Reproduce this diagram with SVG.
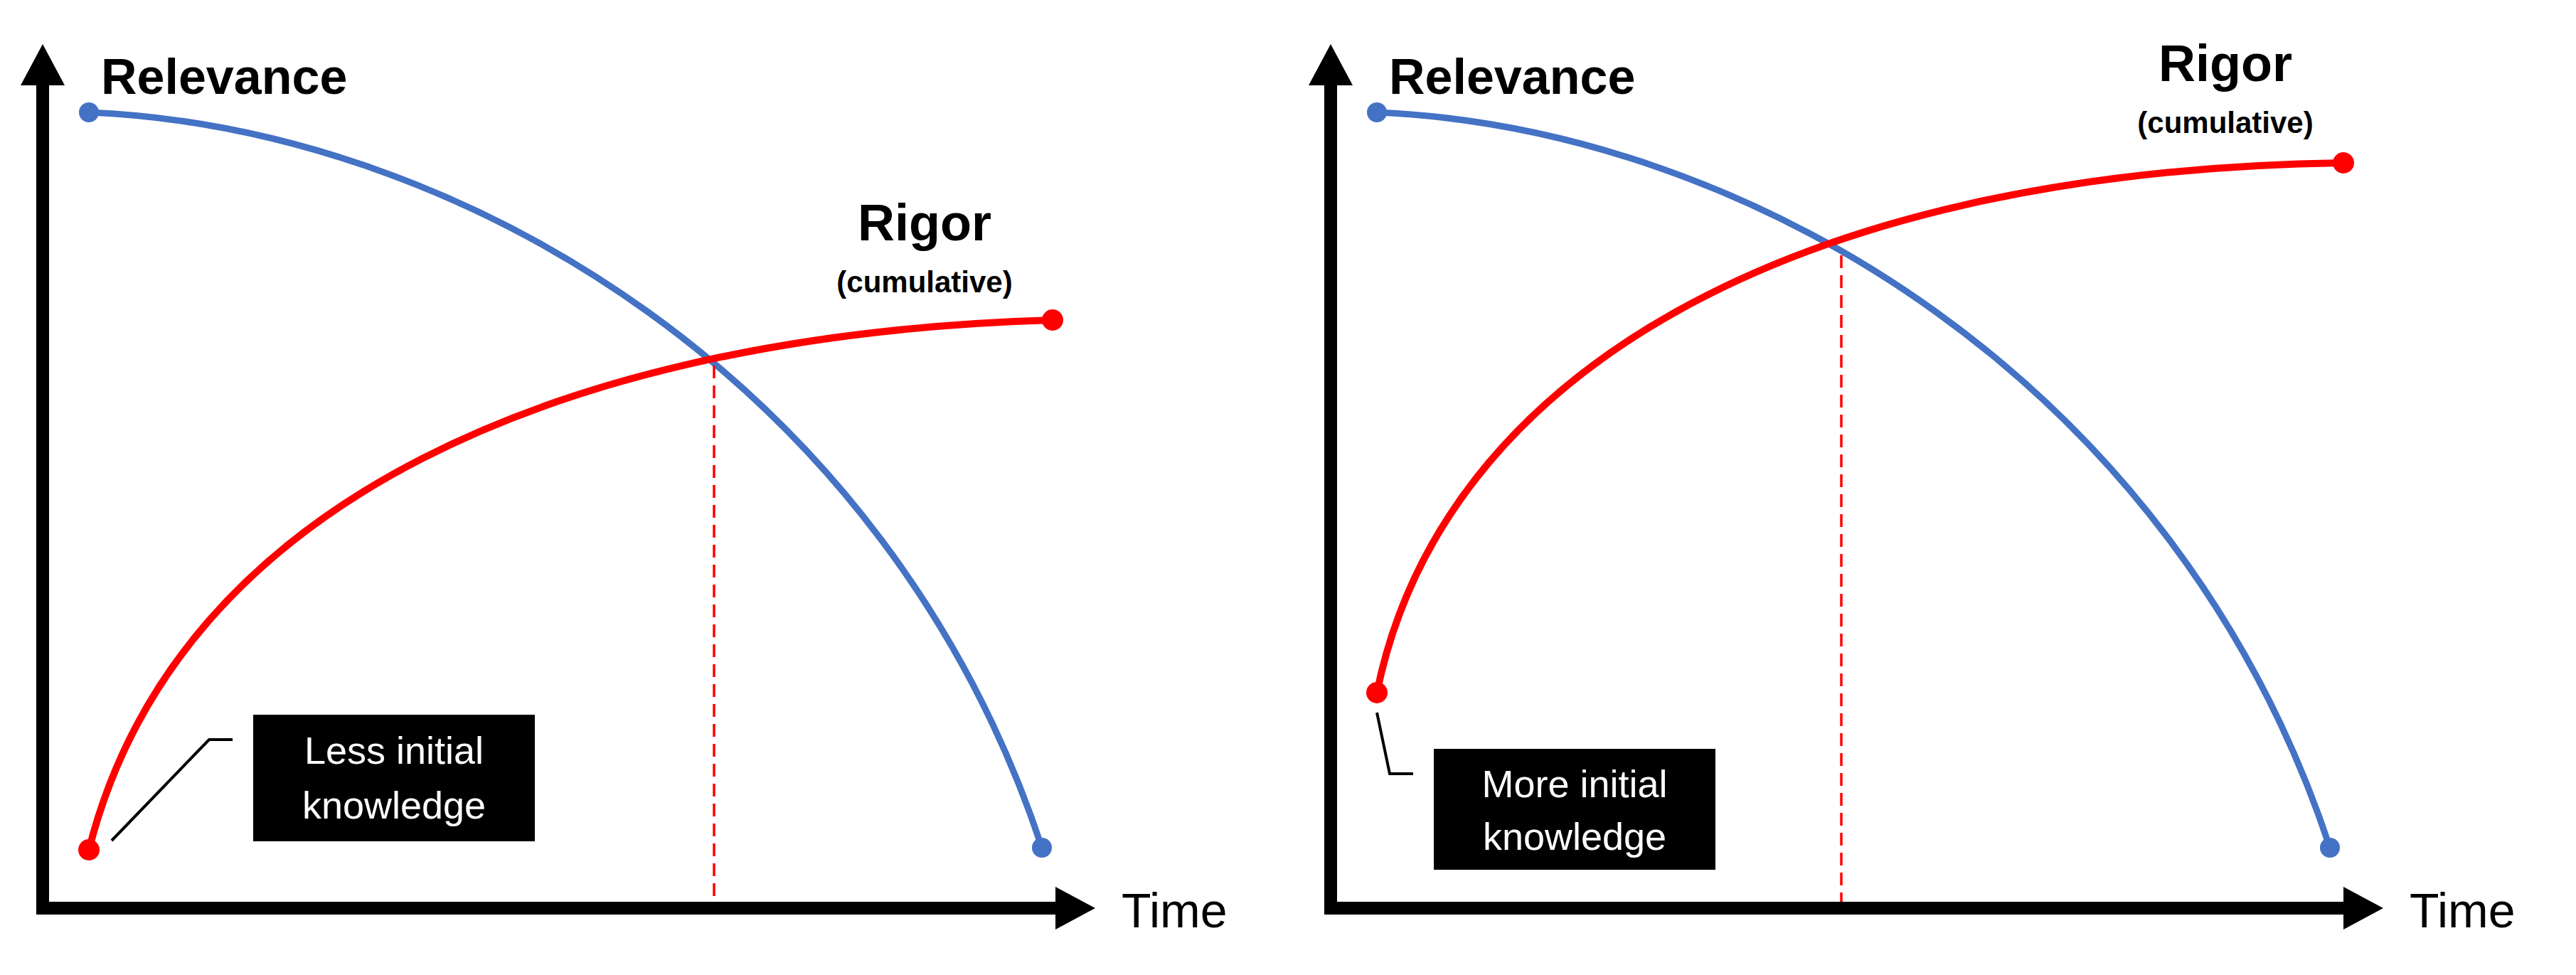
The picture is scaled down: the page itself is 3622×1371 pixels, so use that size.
<svg xmlns="http://www.w3.org/2000/svg" width="3622" height="1371" viewBox="0 0 3622 1371">
<style>
.ax{stroke:#000;stroke-width:18;fill:none}
.ah{fill:#000}
.blue{stroke:#4472C4;stroke-width:9;fill:none}
.red{stroke:#FF0000;stroke-width:10;fill:none}
.dash{stroke:#FF0000;stroke-width:3.5;stroke-dasharray:18 10;fill:none}
.bd{fill:#4472C4}.rd{fill:#FF0000}
.lead{stroke:#000;stroke-width:4;fill:none}
.t{font-family:"Liberation Sans",Arial,sans-serif;fill:#000}
.b{font-weight:bold}
.box{fill:#000}
.bt{font-family:"Liberation Sans",Arial,sans-serif;fill:#fff;font-size:54px;text-anchor:middle}
</style>
<rect width="3622" height="1371" fill="#fff"/>
<g id="left">
  <g id="axes-left">
    <line class="ax" x1="60" y1="1277" x2="60" y2="110"/>
    <polygon class="ah" points="60,62 91,120 29,120"/>
    <line class="ax" x1="51" y1="1277" x2="1495" y2="1277"/>
    <polygon class="ah" points="1540,1277 1484,1247 1484,1307"/>
    <text class="t" x="1577" y="1304" font-size="68">Time</text>
  </g>
  <g id="relevance-left">
    <path class="blue" d="M125,158 C650,180 1250,540 1465,1192"/>
    <circle class="bd" cx="125" cy="158" r="14"/>
    <circle class="bd" cx="1465" cy="1192" r="14"/>
    <text class="t b" x="142" y="132" font-size="70">Relevance</text>
  </g>
  <g id="rigor-left">
    <line class="dash" x1="1004" y1="514" x2="1004" y2="1268"/>
    <path class="red" d="M125,1195 C250,700 800,470 1480,450"/>
    <circle class="rd" cx="125" cy="1195" r="15"/>
    <circle class="rd" cx="1480" cy="450" r="15"/>
    <text class="t b" x="1300" y="338" font-size="72" text-anchor="middle">Rigor</text>
    <text class="t b" x="1300" y="411" font-size="42" text-anchor="middle">(cumulative)</text>
  </g>
  <g id="label-left">
    <polyline class="lead" points="157,1182 294,1040 327,1040"/>
    <rect class="box" x="356" y="1005" width="396" height="178"/>
    <text class="bt" x="554" y="1074">Less initial</text>
    <text class="bt" x="554" y="1151">knowledge</text>
  </g>
</g>
<g id="right" transform="translate(1811,0)">
  <g id="axes-right">
    <line class="ax" x1="60" y1="1277" x2="60" y2="110"/>
    <polygon class="ah" points="60,62 91,120 29,120"/>
    <line class="ax" x1="51" y1="1277" x2="1495" y2="1277"/>
    <polygon class="ah" points="1540,1277 1484,1247 1484,1307"/>
    <text class="t" x="1577" y="1304" font-size="68">Time</text>
  </g>
  <g id="relevance-right">
    <path class="blue" d="M125,158 C650,180 1250,540 1465,1192"/>
    <circle class="bd" cx="125" cy="158" r="14"/>
    <circle class="bd" cx="1465" cy="1192" r="14"/>
    <text class="t b" x="142" y="132" font-size="70">Relevance</text>
  </g>
  <g id="rigor-right">
    <line class="dash" x1="778" y1="359" x2="778" y2="1268"/>
    <path class="red" d="M125,974 C215,530 700,240 1484,229"/>
    <circle class="rd" cx="125" cy="974" r="15"/>
    <circle class="rd" cx="1484" cy="229" r="15"/>
    <text class="t b" x="1318" y="114" font-size="72" text-anchor="middle">Rigor</text>
    <text class="t b" x="1318" y="187" font-size="42" text-anchor="middle">(cumulative)</text>
  </g>
  <g id="label-right">
    <polyline class="lead" points="125,1002 143,1088 176,1088"/>
    <rect class="box" x="205" y="1053" width="396" height="170"/>
    <text class="bt" x="403" y="1121">More initial</text>
    <text class="bt" x="403" y="1195">knowledge</text>
  </g>
</g>
</svg>
